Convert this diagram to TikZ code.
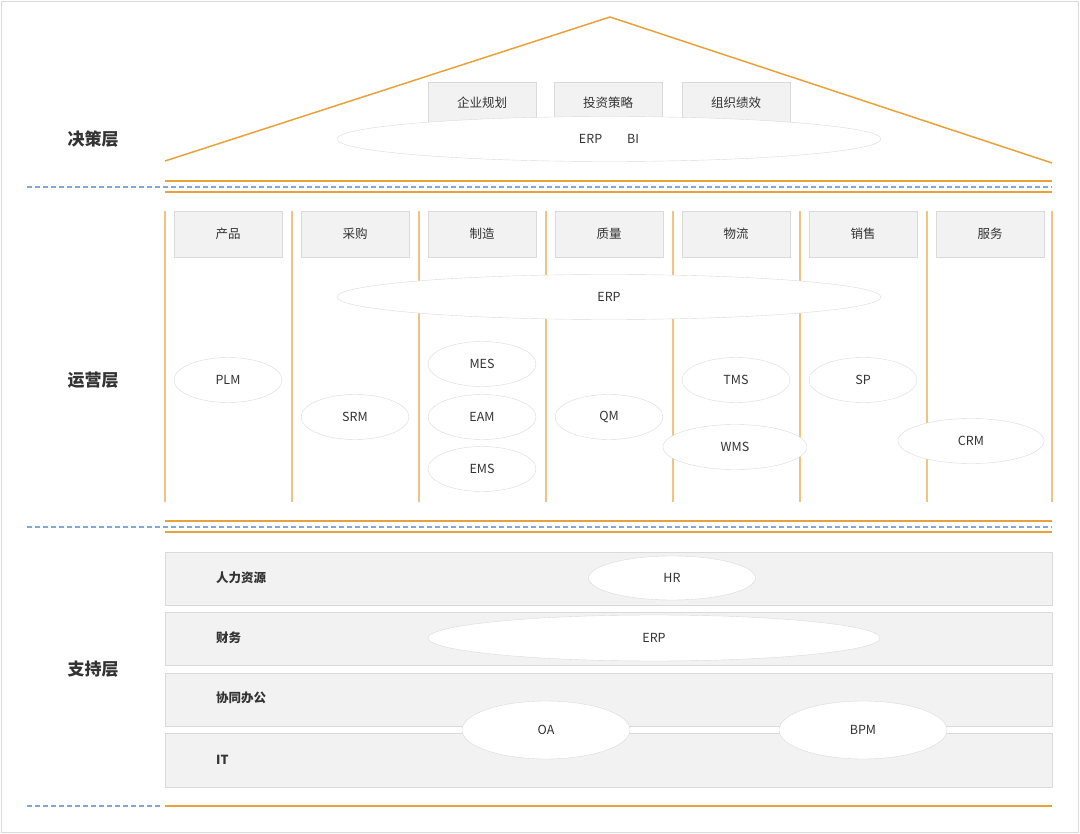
\documentclass[tikz,border=0pt]{standalone}
\usepackage{fontspec}
\setmainfont{Noto Sans CJK SC}
\usetikzlibrary{shapes.geometric}
\definecolor{roof}{HTML}{E9A23B}
\definecolor{pillar}{HTML}{F0C37E}
\definecolor{dashblue}{HTML}{7FA8D2}
\definecolor{boxfill}{HTML}{F2F2F2}
\definecolor{boxline}{HTML}{DADADA}
\definecolor{txt}{HTML}{333333}

\begin{document}
\begin{tikzpicture}[x=1pt,y=-1pt,font=\fontsize{12.5}{14}\selectfont,text=txt,
  box/.style={draw=boxline,fill=boxfill,minimum width=108pt,minimum height=46pt,inner sep=0pt},
  sys/.style={ellipse,draw=boxline,fill=white,minimum width=108pt,minimum height=45pt,inner sep=0pt},
  rowbox/.style={draw=boxline,fill=boxfill,minimum width=887pt,minimum height=53pt,inner sep=0pt},
  rowlabel/.style={anchor=west,inner sep=0pt,font=\fontsize{12.5}{14}\selectfont\bfseries},
  layer/.style={font=\fontsize{17}{20}\selectfont\bfseries},
  orange/.style={draw=roof,line width=1.5pt},
  bluedash/.style={draw=dashblue,line width=1.5pt,dash pattern=on 5pt off 3pt}]
  \useasboundingbox (0,0) rectangle (1080,834);
  \draw[boxline] (1,1) rectangle (1078,832);

  % roof
  \coordinate (roofL) at (165,161);
  \coordinate (roofT) at (610,17);
  \coordinate (roofR) at (1052,163);
  \draw[orange] (roofL) -- (roofT) -- (roofR);

  \node[layer] (decide) at (93,139) {决策层};
  \node[layer] (operate) at (93,380) {运营层};
  \node[layer] (support) at (93,669) {支持层};

  % decision layer
  \node[box,minimum height=42pt] (plan) at (482,103) {企业规划};
  \node[box,minimum height=42pt] (invest) at (608,103) {投资策略};
  \node[box,minimum height=42pt] (perf) at (736,103) {组织绩效};
  \node[sys,minimum width=544pt] (erpbi) at (609,139) {ERP\hspace{2em}BI};

  % separators
  \draw[orange] (165,181) -- (1052,181);
  \draw[orange] (165,192) -- (1052,192);
  \draw[bluedash] (27,187) -- (1052,187);
  \draw[orange] (165,521) -- (1052,521);
  \draw[orange] (165,532) -- (1052,532);
  \draw[bluedash] (27,527) -- (1052,527);
  \draw[orange] (165,806) -- (1052,806);
  \draw[bluedash] (27,806) -- (160,806);

  % operation layer
  \foreach \x in {165,292,419,546,673,800,927,1052}
    \draw[pillar,line width=1.3pt] (\x,211) -- (\x,502);
  \foreach \name [count=\i] in {产品,采购,制造,质量,物流,销售,服务}
    \node[box] (col\i) at ({228+127*(\i-1)},234) {\name};
  \node[sys,minimum width=544pt] (erp) at (609,297) {ERP};
  \node[sys] (plm) at (228,380) {PLM};
  \node[sys] (srm) at (355,417) {SRM};
  \node[sys] (mes) at (482,364) {MES};
  \node[sys] (eam) at (482,417) {EAM};
  \node[sys] (ems) at (482,469) {EMS};
  \node[sys] (qm) at (609,417) {QM};
  \node[sys] (tms) at (736,380) {TMS};
  \node[sys,minimum width=144pt] (wms) at (735,447) {WMS};
  \node[sys] (sp) at (863,380) {SP};
  \node[sys,minimum width=146pt] (crm) at (971,441) {CRM};

  % support layer
  \node[rowbox] (hrrow) at (608.5,578.5) {};
  \node[rowbox] (finrow) at (608.5,638.5) {};
  \node[rowbox] (oarow) at (608.5,699.5) {};
  \node[rowbox,minimum height=54pt] (itrow) at (608.5,760) {};
  \node[rowlabel] at (216,578) {人力资源};
  \node[rowlabel] at (216,638) {财务};
  \node[rowlabel] at (216,698) {协同办公};
  \node[rowlabel] at (216,760) {IT};
  \node[sys,minimum width=167pt,minimum height=44pt] (hr) at (672,578) {HR};
  \node[sys,minimum width=452pt,minimum height=46pt] (fin) at (654,638) {ERP};
  \node[sys,minimum width=168pt,minimum height=58pt] (oa) at (546,730) {OA};
  \node[sys,minimum width=168pt,minimum height=58pt] (bpm) at (863,730) {BPM};
\end{tikzpicture}
\end{document}
